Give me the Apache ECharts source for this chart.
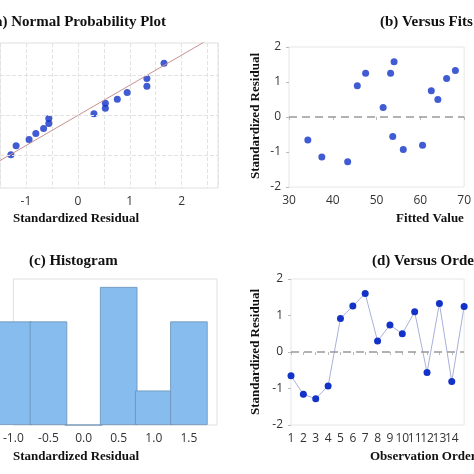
<!DOCTYPE html>
<html>
<head>
<meta charset="utf-8">
<script src="https://cdn.jsdelivr.net/npm/echarts@6/dist/echarts.min.js"></script>
<style>html,body{margin:0;padding:0;background:#fff}#view{width:474px;height:474px}</style>
</head>
<body>
<div id="view"></div>
<script>
// (a) normal probability plot: residual vs normal score
var probResid = [-1.29, -1.19, -0.94, -0.81, -0.66, -0.56, -0.56, 0.31, 0.53, 0.53, 0.76, 0.95, 1.33, 1.33, 1.66];
var probScore = [-1.26, -0.97, -0.77, -0.58, -0.42, -0.26, -0.10, 0.06, 0.23, 0.39, 0.52, 0.74, 0.94, 1.19, 1.68];
var fitLine = [[-1.5, -1.45], [2.7, 2.62]];
var probGrid = [-1.28, 0, 1.28];
// (b) versus fits
var fitted = [34.3, 37.5, 43.4, 56.1, 45.6, 47.5, 54.0, 51.5, 62.5, 64.0, 66.0, 53.7, 53.2, 60.5, 68.0];
var fitResid = [-0.66, -1.14, -1.28, -0.93, 0.89, 1.25, 1.58, 0.27, 0.75, 0.5, 1.1, -0.56, 1.25, -0.81, 1.33];
// (c) histogram
var binMid = [-1.0, -0.5, 0.0, 0.5, 1.0, 1.5];
var binCount = [3, 3, 0, 4, 1, 3];
// (d) versus order
var order = [1, 2, 3, 4, 5, 6, 7, 8, 9, 10, 11, 12, 13, 14, 15];
var orderResid = [-0.65, -1.16, -1.28, -0.93, 0.92, 1.26, 1.60, 0.30, 0.74, 0.50, 1.10, -0.56, 1.33, -0.81, 1.25];

var blue = '#1232c8';
var lbl = {color: '#333', fontSize: 12, fontFamily: 'Open Sans'};
var serifBold = {fontFamily: 'Liberation Serif', fontWeight: 'bold', fill: '#111'};
function title(text, x, y, align, size, rot) {
  return {type: 'text', x: x, y: y, rotation: rot || 0,
    style: Object.assign({text: text, fontSize: size, textAlign: align, textVerticalAlign: 'middle'}, serifBold)};
}
var dashed = {lineStyle: {type: 'dashed', color: '#e2e2e2'}};
var zeroLine = {silent: true, symbol: 'none', label: {show: false},
  lineStyle: {color: '#999', type: [8, 5], width: 1.5}, data: [{yAxis: 0}]};
var tick = {show: true, length: 3, lineStyle: {color: '#bbb'}};

var myChart = echarts.init(document.getElementById('view'));
var option = {
  animation: false,
  grid: [
    {left: 0, top: 43, width: 218, height: 145, show: true, borderColor: '#e0e0e0'},
    {left: 289, top: 47, width: 260, height: 140, show: true, borderColor: '#e6e6e6'},
    {left: 2, top: 279, width: 215, height: 146, show: true, borderColor: '#e0e0e0'},
    {left: 291, top: 279, width: 260, height: 146, show: true, borderColor: '#e6e6e6'}
  ],
  xAxis: [
    {gridIndex: 0, type: 'value', min: -1.5, max: 2.7, interval: 0.5,
      axisLine: {show: false}, axisTick: {show: false}, splitLine: dashed,
      axisLabel: Object.assign({showMaxLabel: false, showMinLabel: false, formatter: function (v) { return v % 1 === 0 ? String(v) : ''; }}, lbl)},
    {gridIndex: 1, type: 'value', min: 30, max: 70, interval: 10,
      axisLine: {show: false}, axisTick: tick, splitLine: {show: false}, axisLabel: lbl},
    {gridIndex: 2, type: 'value', min: -1.0, max: 1.9, interval: 0.5,
      axisLine: {show: false}, axisTick: {show: false}, splitLine: {show: false},
      axisLabel: Object.assign({showMaxLabel: false, formatter: function (v) { return v.toFixed(1); }}, lbl)},
    {gridIndex: 3, type: 'value', min: 1, max: 15, interval: 1,
      axisLine: {show: false}, axisTick: tick, splitLine: {show: false}, axisLabel: lbl}
  ],
  yAxis: [
    {gridIndex: 0, type: 'value', min: -2.33, max: 2.33, axisLabel: {show: false},
      axisLine: {show: false}, axisTick: {show: false}, splitLine: {show: false}},
    {gridIndex: 1, type: 'value', min: -2, max: 2, interval: 1, axisLabel: lbl,
      axisLine: {show: false}, axisTick: tick, splitLine: {show: false}},
    {gridIndex: 2, type: 'value', min: 0, max: 4.23, axisLabel: {show: false},
      axisLine: {show: false}, axisTick: {show: false}, splitLine: {show: false}},
    {gridIndex: 3, type: 'value', min: -2, max: 2, interval: 1, axisLabel: lbl,
      axisLine: {show: false}, axisTick: tick, splitLine: {show: false}}
  ],
  series: [
    {type: 'line', xAxisIndex: 0, yAxisIndex: 0, data: fitLine, symbol: 'none', clip: true,
      lineStyle: {color: '#c89090', width: 1},
      markLine: {silent: true, symbol: 'none', label: {show: false},
        lineStyle: {color: '#e2e2e2', type: 'dashed', width: 1},
        data: probGrid.map(function (g) { return {yAxis: g}; })}},
    {type: 'scatter', xAxisIndex: 0, yAxisIndex: 0, symbolSize: 7, itemStyle: {color: blue},
      data: probResid.map(function (r, i) { return [r, probScore[i]]; })},
    {type: 'scatter', xAxisIndex: 1, yAxisIndex: 1, symbolSize: 7, itemStyle: {color: blue},
      data: fitted.map(function (f, i) { return [f, fitResid[i]]; }), markLine: zeroLine},
    {type: 'bar', xAxisIndex: 2, yAxisIndex: 2, barWidth: 37.5, clip: false,
      itemStyle: {color: '#86bdee', borderColor: '#6a8fb5', borderWidth: 0.8},
      data: binMid.map(function (m, i) { return [m, binCount[i]]; })},
    {type: 'line', xAxisIndex: 3, yAxisIndex: 3, symbol: 'circle', symbolSize: 7,
      lineStyle: {color: '#a8b0d8', width: 1}, itemStyle: {color: blue},
      data: order.map(function (o, i) { return [o, orderResid[i]]; }), markLine: zeroLine}
  ],
  graphic: [
    title('(a) Normal Probability Plot', 166, 22, 'right', 15),
    title('(b) Versus Fits', 380, 22, 'left', 15),
    title('(c) Histogram', 29, 261, 'left', 15),
    title('(d) Versus Order', 372, 261, 'left', 15),
    title('Standardized Residual', 76, 219, 'center', 13),
    title('Fitted Value', 430, 219, 'center', 13),
    title('Standardized Residual', 76, 457, 'center', 13),
    title('Observation Order', 370, 457, 'left', 13),
    title('Standardized Residual', 256, 116, 'center', 13, Math.PI / 2),
    title('Standardized Residual', 256, 352, 'center', 13, Math.PI / 2)
  ]
};
myChart.setOption(option);
</script>
</body>
</html>
